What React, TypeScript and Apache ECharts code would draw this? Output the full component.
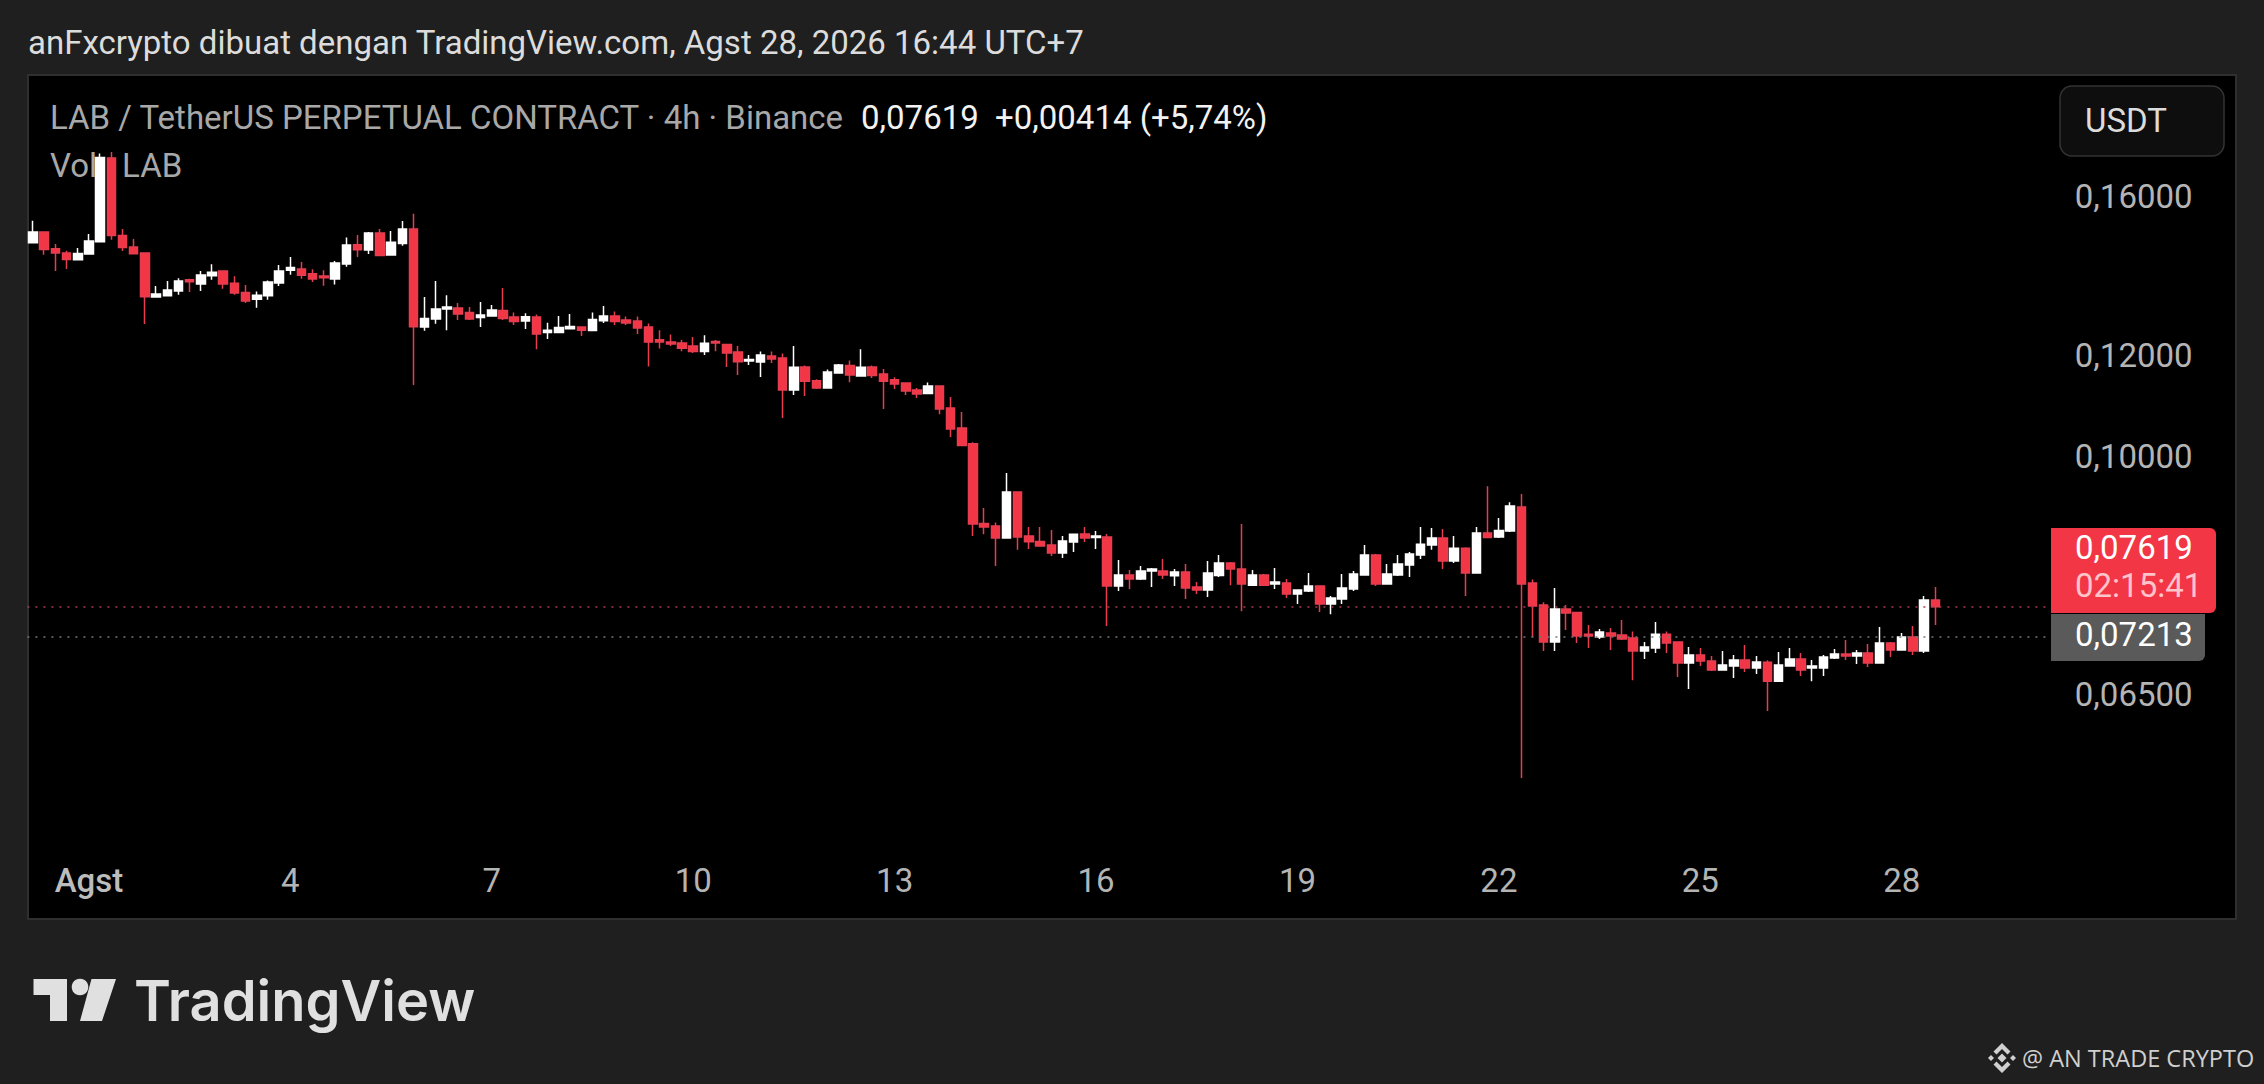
import React, { useEffect, useRef } from "react";
import * as echarts from "echarts";

const opens = [
  .14720,.15005,.14560,.14447,.14273,.14421,.14747,.17156,.14916,.14604,
  .14447,.13340,.13372,.13487,.13768,.13660,.13868,.13984,.13676,.13454,
  .13287,.13372,.13684,.14002,.14035,.13917,.13860,.13785,.14163,.14665,
  .14525,.14978,.14395,.14702,.15087,.12635,.12820,.13055,.13079,.12975,
  .12859,.12890,.13023,.12866,.12774,.12866,.12515,.12515,.12598,.12635,
  .12558,.12782,.12890,.12797,.12774,.12635,.12350,.12298,.12276,.12210,
  .12091,.12313,.12246,.12077,.11883,.11861,.11990,.11947,.11275,.11755,
  .11465,.11316,.11627,.11789,.11564,.11755,.11606,.11486,.11418,.11275,
  .11207,.11357,.10914,.10525,.10232,.08858,.08816,.08627,.09375,.08657,
  .08574,.08517,.08395,.08564,.08691,.08637,.08642,.07908,.08068,.08009,
  .08127,.08127,.08058,.08112,.07894,.07851,.08063,.08246,.08156,.07922,
  .08068,.07937,.07952,.07795,.07837,.07908,.07656,.07725,.07866,.08068,
  .08365,.07937,.08068,.08216,.08365,.08517,.08627,.08275,.08470,.08097,
  .08705,.08642,.08736,.09124,.07952,.07641,.07147,.07586,.07540,.07250,
  .07212,.07264,.07238,.07199,.07033,.07070,.07250,.07147,.06881,.06981,
  .06906,.06794,.06844,.06918,.06819,.06890,.06658,.06844,.06930,.06819,
  .06819,.06943,.06993,.06968,.07006,.06881,.07134,.07046,.07212,.07033,
  .07712,
];
const closes = [
  .15005,.14543,.14447,.14282,.14438,.14764,.17177,.14916,.14595,.14430,
  .13348,.13413,.13512,.13733,.13717,.13884,.13951,.13660,.13438,.13247,
  .13388,.13709,.13984,.14077,.13876,.13785,.13818,.14189,.14656,.14534,
  .14978,.14386,.14729,.15087,.12643,.12836,.13055,.13103,.12936,.12820,
  .12913,.13031,.12836,.12767,.12874,.12478,.12566,.12628,.12651,.12566,
  .12813,.12890,.12767,.12728,.12613,.12298,.12298,.12254,.12163,.12091,
  .12269,.12276,.12055,.11868,.11918,.12012,.11925,.11275,.11748,.11458,
  .11316,.11648,.11796,.11585,.11748,.11578,.11458,.11397,.11255,.11194,
  .11357,.10893,.10506,.10201,.08847,.08800,.08627,.09375,.08642,.08569,
  .08502,.08395,.08580,.08686,.08627,.08657,.07908,.08068,.08009,.08127,
  .08156,.08068,.08112,.07880,.07851,.08097,.08246,.08156,.07937,.08068,
  .07922,.07966,.07795,.07851,.07908,.07656,.07739,.07880,.08083,.08365,
  .07937,.08083,.08231,.08380,.08532,.08627,.08275,.08470,.08097,.08705,
  .08637,.08747,.09140,.07937,.07628,.07147,.07586,.07532,.07225,.07225,
  .07277,.07225,.07186,.07033,.07083,.07250,.07134,.06881,.06981,.06906,
  .06794,.06857,.06918,.06819,.06894,.06658,.06857,.06930,.06794,.06844,
  .06956,.06993,.06968,.07006,.06881,.07134,.07046,.07212,.07033,.07712,
  .07619,
];
const lows = [
  .14720,.14403,.13984,.14035,.14273,.14421,.14747,.14800,.14499,.14430,
  .12705,.13323,.13372,.13397,.13463,.13487,.13768,.13545,.13397,.13199,
  .13088,.13279,.13610,.13893,.13793,.13709,.13618,.13651,.14095,.14343,
  .14421,.14386,.14395,.14639,.11377,.12553,.12713,.12566,.12797,.12797,
  .12635,.12874,.12797,.12682,.12591,.12141,.12365,.12515,.12591,.12433,
  .12545,.12728,.12682,.12682,.12478,.11767,.12156,.12210,.12098,.12055,
  .12012,.12098,.11755,.11585,.11796,.11545,.11840,.10718,.11175,.11155,
  .11296,.11316,.11627,.11438,.11564,.11523,.10893,.11296,.11175,.11115,
  .11194,.10794,.10356,.10195,.08657,.08686,.08201,.08627,.08444,.08456,
  .08502,.08350,.08320,.08410,.08564,.08456,.07357,.07837,.07866,.07995,
  .07894,.08009,.07908,.07725,.07795,.07753,.08039,.07922,.07558,.07922,
  .07908,.07866,.07739,.07656,.07823,.07545,.07517,.07656,.07837,.08068,
  .07908,.07937,.08053,.08039,.08305,.08444,.08156,.08246,.07767,.08097,
  .08627,.08627,.08720,.05588,.07212,.07033,.07033,.07304,.07134,.07070,
  .07186,.07046,.07173,.06670,.06930,.07006,.07006,.06708,.06564,.06844,
  .06782,.06794,.06696,.06769,.06745,.06308,.06658,.06844,.06721,.06658,
  .06721,.06930,.06918,.06869,.06832,.06881,.06956,.07046,.06981,.07006,
  .07370,
];
const highs = [
  .15317,.15005,.14686,.14508,.14578,.14951,.17302,.17343,.15087,.14818,
  .14464,.13610,.13733,.13801,.13793,.13984,.14155,.14002,.13851,.13635,
  .13479,.13750,.14138,.14343,.14214,.14027,.14002,.14239,.14862,.14925,
  .15005,.15087,.15032,.15308,.15511,.13340,.13733,.13388,.13199,.13103,
  .13223,.13151,.13561,.12975,.12959,.12928,.12736,.12890,.12936,.12651,
  .12975,.13127,.12998,.12882,.12882,.12720,.12566,.12470,.12343,.12410,
  .12448,.12343,.12254,.12210,.12012,.12091,.12091,.12048,.12210,.11789,
  .11499,.11704,.11818,.11897,.12141,.11789,.11711,.11537,.11431,.11316,
  .11431,.11370,.11135,.10834,.10257,.09110,.08874,.09703,.09387,.08800,
  .08800,.08752,.08657,.08691,.08800,.08736,.08691,.08290,.08142,.08201,
  .08171,.08305,.08156,.08231,.07966,.08275,.08365,.08260,.08847,.08142,
  .08083,.08171,.08009,.07851,.08097,.07908,.07767,.08083,.08127,.08517,
  .08380,.08231,.08365,.08410,.08800,.08784,.08768,.08657,.08486,.08800,
  .09476,.08945,.09203,.09341,.08004,.07679,.07880,.07641,.07545,.07370,
  .07317,.07330,.07437,.07286,.07147,.07410,.07286,.07151,.07083,.07070,
  .06968,.07033,.06981,.07109,.06968,.06914,.07019,.07070,.07006,.06918,
  .06981,.07057,.07173,.07046,.07121,.07343,.07147,.07264,.07357,.07767,
  .07894,
];

const slotCount = 181;
const dayLabels: Record<number, string> = {
  5: "Agst", 23: "4", 41: "7", 59: "10", 77: "13", 95: "16", 113: "19", 131: "22", 149: "25", 167: "28",
};
const priceTicks = [0.065, 0.1, 0.12, 0.16];
const lastPrice = 0.07619;
const refPrice = 0.07213;

const TITLE = "anFxcrypto dibuat dengan TradingView.com, Agst 28, 2026 16:44 UTC+7";
const SYMBOL = "LAB / TetherUS PERPETUAL CONTRACT · 4h · Binance";
const VOL = "Vol · LAB";

const RED = "#f23645";
const FS = 33;
const categories = Array.from({ length: slotCount }, (_, i) => String(i));
const candleData = opens.map((o, i) => [o, closes[i], lows[i], highs[i]]);
const comma = (v: number) => v.toFixed(5).replace(".", ",");

const txt = (text: string, x: number, y: number, size: number, fill: string, z = 1, weight = 400, family = "Roboto") => ({
  type: "text", x, y, z,
  style: { text, fill, fontSize: size, fontFamily: family, fontWeight: weight, align: "left", verticalAlign: "middle" },
});

export default function App() {
  const ref = useRef<HTMLDivElement>(null);
  useEffect(() => {
    document.body.style.margin = "0";
    document.body.style.background = "#1f1f1f";
    const chart = echarts.init(ref.current!, undefined, { renderer: "svg" });
    chart.setOption({
      animation: false,
      backgroundColor: "#1f1f1f",
      grid: { left: 27.4, top: 76, width: 2025.4, height: 842, containLabel: false },
      xAxis: {
        type: "category",
        data: categories,
        axisLine: { show: false },
        axisTick: { show: false },
        splitLine: { show: false },
        axisLabel: {
          inside: true,
          margin: 21,
          color: "#b4b4b4",
          fontFamily: "Roboto",
          fontSize: FS,
          interval: (i: number) => dayLabels[i] !== undefined,
          formatter: (_: string, i: number) => (i === 5 ? `{month|${dayLabels[i]}}` : dayLabels[i] ?? ""),
          rich: { month: { fontFamily: "Roboto", fontSize: FS, fontWeight: 500, color: "#bcbcbc" } },
        },
      },
      yAxis: {
        type: "log",
        logBase: 10,
        position: "right",
        min: 0.04338,
        max: 0.19902,
        axisLine: { show: false },
        axisTick: { show: false },
        splitLine: { show: false },
        axisLabel: {
          customValues: priceTicks,
          margin: 22,
          align: "left",
          color: "#b4b4b4",
          fontFamily: "Roboto",
          fontSize: FS,
          formatter: (v: number) => comma(Number(v)),
        },
      },
      series: [
        {
          type: "candlestick",
          data: candleData,
          barWidth: 9,
          z: 3,
          itemStyle: {
            color: "#ffffff",
            color0: RED,
            borderColor: "#ffffff",
            borderColor0: "#e63e50",
            borderWidth: 1.5,
          },
          markLine: {
            silent: true,
            symbol: "none",
            precision: 5,
            label: { show: false },
            data: [
              { yAxis: lastPrice, lineStyle: { color: "#a5404f", type: [2, 6], width: 1.5 } },
              { yAxis: refPrice, lineStyle: { color: "#777777", type: [2, 6], width: 1.5 } },
            ],
          },
        },
      ],
      graphic: {
        elements: [
          { type: "rect", z: 0, shape: { x: 28, y: 75, width: 2208, height: 844 }, style: { fill: "#000000", stroke: "#2f2f2f", lineWidth: 2 } },
          txt(TITLE, 28, 42, FS, "#dcdcdc"),
          txt(SYMBOL, 50, 117, FS, "#a8a8a8"),
          txt("0,07619", 861, 117, FS, "#f2f2f2"),
          txt("+0,00414 (+5,74%)", 995, 117, FS, "#f2f2f2"),
          txt(VOL, 50, 165, FS, "#a8a8a8"),
          { type: "rect", z: 20, shape: { x: 2060, y: 86, width: 164, height: 70, r: 12 }, style: { fill: "#0e0e0e", stroke: "#333333", lineWidth: 1.5 } },
          txt("USDT", 2085, 120, FS, "#dcdcdc", 21),
          { type: "rect", z: 20, shape: { x: 2051, y: 528, width: 165, height: 85, r: [0, 6, 6, 0] }, style: { fill: RED } },
          txt("0,07619", 2075, 547, FS, "#ffffff", 21),
          txt("02:15:41", 2075, 585, FS, "#ffc4ca", 21),
          { type: "rect", z: 19, shape: { x: 2051, y: 614, width: 154, height: 47, r: [0, 0, 6, 0] }, style: { fill: "#5a5a5a" } },
          txt("0,07213", 2075, 634, FS, "#ffffff", 21),
          // TradingView mark
          { type: "polygon", z: 1, shape: { points: [[33.5, 979], [67, 979], [67, 1021], [50, 1021], [50, 995], [33.5, 995]] }, style: { fill: "#e0e0e0" } },
          { type: "circle", z: 1, shape: { cx: 80, cy: 987, r: 8.3 }, style: { fill: "#e0e0e0" } },
          { type: "polygon", z: 1, shape: { points: [[91.5, 979], [116, 979], [102, 1021], [80, 1021]] }, style: { fill: "#e0e0e0" } },
          txt("TradingView", 134, 1001, 56, "#e0e0e0", 1, 600, "Inter"),
          // Binance mark
          { type: "polygon", z: 1, shape: { points: [[2002, 1043], [2010.5, 1051.5], [2007.5, 1054.5], [2002, 1049], [1996.5, 1054.5], [1993.5, 1051.5]] }, style: { fill: "#d0d0d0" } },
          { type: "polygon", z: 1, shape: { points: [[2002, 1073], [2010.5, 1064.5], [2007.5, 1061.5], [2002, 1067], [1996.5, 1061.5], [1993.5, 1064.5]] }, style: { fill: "#d0d0d0" } },
          { type: "polygon", z: 1, shape: { points: [[2002, 1053.5], [2006.5, 1058], [2002, 1062.5], [1997.5, 1058]] }, style: { fill: "#d0d0d0" } },
          { type: "polygon", z: 1, shape: { points: [[1991, 1055], [1994, 1058], [1991, 1061], [1988, 1058]] }, style: { fill: "#d0d0d0" } },
          { type: "polygon", z: 1, shape: { points: [[2013, 1055], [2016, 1058], [2013, 1061], [2010, 1058]] }, style: { fill: "#d0d0d0" } },
          txt("@ AN TRADE CRYPTO", 2022, 1058, 23.5, "#cfcfcf", 1, 400, "Open Sans"),
        ],
      },
    });
    return () => chart.dispose();
  }, []);
  return <div ref={ref} style={{ position: "absolute", left: 0, top: 0, width: 2264, height: 1084 }} />;
}
